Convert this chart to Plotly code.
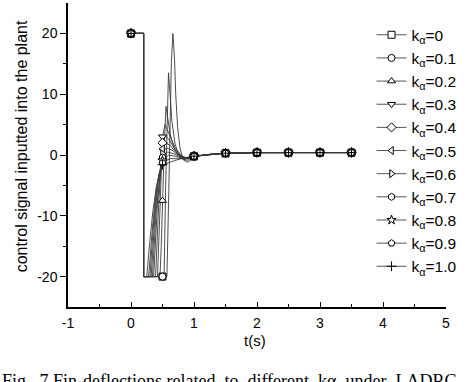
import plotly.graph_objects as go

k_labels = ["0", "0.1", "0.2", "0.3", "0.4", "0.5", "0.6", "0.7", "0.8", "0.9", "1.0"]
symbols = ["square", "circle", "triangle-up", "triangle-down", "diamond",
           "triangle-left", "triangle-right", "hexagon", "star", "pentagon", "cross-thin"]

head_t = [0, 0.2, 0.2]
head_y = [20, 20, -20]
tail_t = [1.25, 1.5, 2.0, 2.5, 3.0, 3.5]
tail_y = [0.1, 0.3, 0.4, 0.4, 0.4, 0.4]

# transient part of each curve (t from the hold at -20 to t=1.0)
trans_t = [
    [0.5, 0.57, 0.6, 0.62, 0.64, 0.665, 0.69, 0.71, 0.74, 0.78, 0.83, 0.9, 0.95, 1.0],
    [0.5, 0.525, 0.55, 0.575, 0.595, 0.62, 0.65, 0.7, 0.75, 0.8, 0.9, 1.0],
    [0.46, 0.48, 0.5, 0.53, 0.555, 0.58, 0.62, 0.68, 0.75, 0.85, 0.95, 1.0],
    [0.42, 0.46, 0.5, 0.54, 0.6, 0.7, 0.8, 0.9, 1.0],
    [0.39, 0.44, 0.5, 0.54, 0.6, 0.7, 0.8, 0.9, 1.0],
    [0.36, 0.42, 0.5, 0.55, 0.62, 0.7, 0.8, 0.9, 1.0],
    [0.34, 0.4, 0.5, 0.56, 0.65, 0.75, 0.85, 1.0],
    [0.32, 0.38, 0.44, 0.5, 0.58, 0.68, 0.8, 0.9, 1.0],
    [0.3, 0.36, 0.42, 0.5, 0.6, 0.7, 0.8, 0.9, 1.0],
    [0.28, 0.34, 0.4, 0.5, 0.62, 0.75, 0.9, 1.0],
    [0.25, 0.3, 0.35, 0.4, 0.45, 0.5, 0.6, 0.7, 0.8, 0.9, 1.0],
]
trans_y = [
    [-20, -20, -6, 6, 15, 20, 16, 10, 4.5, 1, -0.8, -1.2, -0.8, -0.2],
    [-20, -20, -5, 7, 13.5, 10, 5.5, 1.8, 0.2, -0.6, -0.9, -0.2],
    [-20, -15, -7.5, 2, 8, 6.5, 3.5, 1.2, 0, -0.7, -0.5, -0.2],
    [-20, -9, 3, 5, 3.5, 1.2, -0.1, -0.6, -0.2],
    [-20, -8, 2, 3.2, 2.6, 0.9, -0.2, -0.6, -0.2],
    [-20, -8, 1, 2, 1.6, 0.6, -0.3, -0.6, -0.2],
    [-20, -9, 0.2, 1.2, 0.8, 0, -0.5, -0.2],
    [-20, -10, -3.5, -0.4, 0.5, 0.2, -0.4, -0.6, -0.2],
    [-20, -11, -4.5, -0.9, 0, -0.2, -0.5, -0.5, -0.2],
    [-20, -12, -5.5, -1.3, -0.6, -0.6, -0.4, -0.2],
    [-20, -14, -9, -5.5, -2.9, -1.6, -1.2, -0.9, -0.6, -0.4, -0.2],
]

# marker positions (every 0.5 s)
mark_t = [0, 0.5, 1.0, 1.5, 2.0, 2.5, 3.0, 3.5]
mark_y05 = [-20, -20, -7.5, 3, 2, 1, 0.2, -0.4, -0.9, -1.3, -1.6]
mark_rest = [-0.2, 0.3, 0.4, 0.4, 0.4, 0.4]

x_ticks = [-1, 0, 1, 2, 3, 4, 5]
x_ticktext = ["-1", "0", "1", "2", "3", "4", "5"]
y_ticks = [-20, -10, 0, 10, 20]
y_ticktext = ["-20", "-10", "0", "10", "20"]

line_col = "#3a3a3a"
fig = go.Figure()
for i in range(len(k_labels)):
    fig.add_trace(go.Scatter(x=head_t + trans_t[i] + tail_t, y=head_y + trans_y[i] + tail_y,
                             mode="lines", line=dict(color=line_col, width=0.9),
                             showlegend=False, hoverinfo="skip"))
for i in range(len(k_labels)):
    fig.add_trace(go.Scatter(x=mark_t, y=[20, mark_y05[i]] + mark_rest, mode="markers",
                             marker=dict(symbol=symbols[i], size=7, color="white",
                                         line=dict(width=1, color="black")),
                             showlegend=False, hoverinfo="skip"))
for i in range(len(k_labels)):
    fig.add_trace(go.Scatter(x=[None], y=[None], mode="lines+markers",
                             name="k<sub>α</sub>=" + k_labels[i],
                             line=dict(color="#555555", width=1),
                             marker=dict(symbol=symbols[i], size=7, color="white",
                                         line=dict(width=1, color="black"))))

axis_font = dict(family="Liberation Sans, Arial", size=14, color="black")
fig.update_layout(
    width=474, height=382,
    margin=dict(l=68, r=28, t=2.5, b=75),
    paper_bgcolor="white", plot_bgcolor="white",
    font=axis_font,
    xaxis=dict(range=[-1, 5], tickvals=x_ticks, ticktext=x_ticktext, ticks="inside", ticklen=5,
               tickwidth=1.2, tickcolor="black", showline=True, linecolor="black", linewidth=1.5,
               showgrid=False, zeroline=False, ticklabelstandoff=2,
               minor=dict(tickvals=[-0.5, 0.5, 1.5, 2.5, 3.5, 4.5], ticks="inside", ticklen=3,
                          tickcolor="black", showgrid=False)),
    yaxis=dict(range=[-25, 25], tickvals=y_ticks, ticktext=y_ticktext, ticks="outside", ticklen=6,
               tickwidth=1.2, tickcolor="black", showline=True, linecolor="black", linewidth=1.5,
               showgrid=False, zeroline=False,
               minor=dict(tickvals=[-15, -5, 5, 15], ticks="outside", ticklen=3,
                          tickcolor="black", showgrid=False)),
    legend=dict(x=0.803, y=0.95, xanchor="left", yanchor="top", bgcolor="rgba(0,0,0,0)",
                font=dict(family="Liberation Sans, Arial", size=15.5, color="black"),
                itemwidth=30, tracegroupgap=0),
    showlegend=True,
)
fig.add_annotation(text="control signal inputted into the plant", textangle=-90,
                   xref="paper", yref="paper", x=-0.124, y=0.529, xanchor="center", yanchor="middle",
                   showarrow=False, font=dict(family="Liberation Sans, Arial", size=16))
fig.add_annotation(text="t(s)", xref="paper", yref="paper", x=0.495, y=-0.11,
                   xanchor="center", yanchor="middle", showarrow=False,
                   font=dict(family="Liberation Sans, Arial", size=15))
fig.add_annotation(text="Fig.\u00a0\u00a07 Fin-deflections related\u00a0\u00a0to\u00a0\u00a0different\u00a0\u00a0kα\u00a0\u00a0under\u00a0\u00a0LADRC",
                   xref="paper", yref="paper", x=-0.18, y=-0.205, xanchor="left", yanchor="top",
                   showarrow=False, font=dict(family="Liberation Serif, Times New Roman", size=18))
fig.write_html("out.html", config={"displayModeBar": False},
               post_script="document.body.style.margin='0';document.body.style.overflow='hidden';")
